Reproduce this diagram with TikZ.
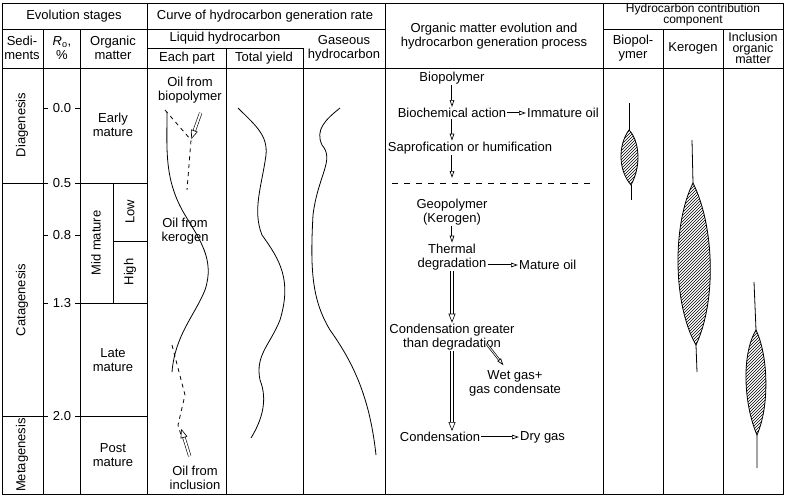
\documentclass[tikz,border=0pt]{standalone}
\usepackage{fontspec}
\setmainfont{Liberation Sans}
\usetikzlibrary{arrows.meta,patterns}
\begin{document}
\begin{tikzpicture}[x=1pt,y=-1pt,
  every node/.style={inner sep=0pt,align=center,font=\fontsize{13}{14}\selectfont},
  grid/.style={line width=0.8pt},
  curve/.style={line width=0.8pt},
  dcurve/.style={line width=0.8pt,dash pattern=on 4pt off 4pt},
  flow/.style={double distance=2pt,line width=0.6pt,-{Triangle[open,length=9pt,width=7pt]},shorten >=1pt,shorten <=1pt},
  side/.style={line width=0.7pt,double distance=0.8pt,-{Triangle[open,length=7pt,width=4.5pt]},shorten >=1pt,shorten <=1pt},
  lens/.style={line width=0.8pt,pattern=north east lines}]
\useasboundingbox (0,0) rectangle (785,496);
% frame and grid
\draw[grid] (2,3) rectangle (783,494);
\draw[grid] (2,29) -- (385,29) (603,29) -- (783,29);
\draw[grid] (147,48) -- (303,48);
\draw[grid] (2,68) -- (783,68);
\draw[grid] (43,29) -- (43,494) (80,29) -- (80,494) (147,3) -- (147,494)
  (226,48) -- (226,494) (303,48) -- (303,494) (385,3) -- (385,494) (603,3) -- (603,494)
  (663,29) -- (663,494) (723,29) -- (723,494);
\draw[grid] (2,183) -- (43,183) (80,183) -- (147,183);
\draw[grid] (2,416) -- (43,416) (80,303) -- (147,303) (80,416) -- (147,416);
\draw[grid] (113,183) -- (113,303) (113,241) -- (147,241);
\foreach \y/\t in {108/0.0,183/0.5,235/0.8,303/1.3,416/2.0}{
  \draw[grid] (43,\y) -- (48,\y) (75,\y) -- (80,\y);
  \node (ro\t) at (62,\y) {\t};}
% headers
\node (h1) at (74,16) {Evolution stages};
\node (h2) at (265,16) {Curve of hydrocarbon generation rate};
\node (h3) at (494,36) {Organic matter evolution and\\hydrocarbon generation process};
\node[font=\fontsize{12}{11.5}\selectfont] (h4) at (693,15) {Hydrocarbon contribution\\component};
\node (hs) at (22,48) {Sedi-\\ments};
\node (hr) at (62,48) {\textit{R}\textsubscript{o},\\\%};
\node (ho) at (113,48) {Organic\\matter};
\node (hl) at (225,38) {Liquid hydrocarbon};
\node (he) at (187,58) {Each part};
\node (ht) at (264,58) {Total yield};
\node (hg) at (344,48) {Gaseous\\hydrocarbon};
\node (hb) at (633,48) {Biopol-\\ymer};
\node (hk) at (693,48) {Kerogen};
\node[font=\fontsize{12.5}{11}\selectfont] (hi) at (753,48) {Inclusion\\organic\\matter};
% stages
\node[rotate=90] (dia) at (22,125) {Diagenesis};
\node[rotate=90] (cat) at (22,300) {Catagenesis};
\node[rotate=90] (met) at (22,455) {Metagenesis};
\node (em) at (113,125) {Early\\mature};
\node[rotate=90] (mm) at (96,243) {Mid mature};
\node[rotate=90] (lo) at (130,212) {Low};
\node[rotate=90] (hi2) at (130,272) {High};
\node (lm) at (113,360) {Late\\mature};
\node (pm) at (113,455) {Post\\mature};
% each part curves
\node (ob) at (190,90) {Oil from\\biopolymer};
\node (ok) at (185,231) {Oil from\\kerogen};
\node (oi) at (195,478) {Oil from\\inclusion};
\draw[curve] (167,112) .. controls (167,150) and (164,180) .. (185,215)
  .. controls (200,240) and (215,260) .. (205,290) .. controls (195,315) and (175,335) .. (172,372);
\draw[dcurve] (165,110) -- (191,140) -- (187,190);
\draw[dcurve] (172,345) -- (185,395) -- (178,425) -- (181,435);
\coordinate (obt) at (191,140);
\coordinate (oit) at (181,428);
\draw[flow] (201,112) -- (obt);
\draw[flow] (190,457) -- (oit);
% total yield
\draw[curve] (238,108) .. controls (255,125) and (268,135) .. (266,155)
  .. controls (262,185) and (252,210) .. (262,235) .. controls (280,260) and (292,280) .. (280,320)
  .. controls (270,345) and (255,355) .. (260,380) .. controls (268,400) and (262,420) .. (251,438);
% gaseous
\draw[curve] (340,108) .. controls (325,120) and (315,130) .. (322,145)
  .. controls (335,160) and (318,175) .. (313,215) .. controls (310,270) and (312,300) .. (330,330)
  .. controls (355,365) and (370,400) .. (376,455);
% process
\node (n1) at (452,78) {Biopolymer};
\node (n2) at (452,113) {Biochemical action};
\node[anchor=west] (n2b) at (527,113) {Immature oil};
\node (n3) at (470,148) {Saprofication or humification};
\coordinate (n3b) at (452,179);
\draw[dash pattern=on 6pt off 6pt,line width=0.7pt] (392,183) -- (592,183);
\node (n4) at (452,212) {Geopolymer\\(Kerogen)};
\node (n5) at (452,257) {Thermal\\degradation};
\node[anchor=west] (n5b) at (519,265) {Mature oil};
\node (n6) at (452,337) {Condensation greater\\than degradation};
\node (n7) at (515,383) {Wet gas+\\gas condensate};
\node (n8) at (440,437) {Condensation};
\node[anchor=west] (n8b) at (520,437) {Dry gas};
\draw[side] (n1) -- (n2);
\draw[side] (n2) -- (n2b);
\draw[side] (n2) -- (n3.north-|n2);
\draw[side] (n3.south-|n3b) -- (n3b);
\draw[side] (n4) -- (n5);
\draw[side] (n5.east|-n5b) -- (n5b);
\draw[flow] (n5.south) -- (n6.north-|n5);
\draw[flow] (n6.south) -- (n8.north-|n6);
\draw[side] (486,343) -- (504,366);
\draw[side] (n8) -- (n8b);
% lenses
\draw[curve] (629,103) -- (629,130) (631,185) -- (631,200);
\draw[lens] (629,130) .. controls (618,145) and (618,170) .. (631,185) .. controls (642,165) and (639,140) .. (629,130) -- cycle;
\draw[curve] (692,140) -- (693,183) (696,345) -- (697,372);
\draw[lens] (693,183) .. controls (672,225) and (673,305) .. (696,345) .. controls (717,300) and (714,225) .. (693,183) -- cycle;
\draw[curve] (754,282) -- (756,330) (757,435) -- (757,468);
\draw[lens] (756,330) .. controls (741,355) and (744,405) .. (757,435) .. controls (770,405) and (768,355) .. (756,330) -- cycle;
\end{tikzpicture}
\end{document}
